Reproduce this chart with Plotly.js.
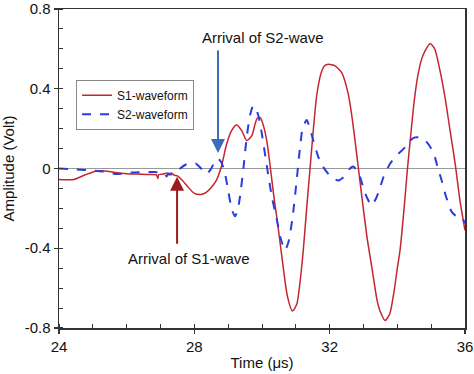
<!DOCTYPE html>
<html><head><meta charset="utf-8">
<script src="https://cdn.plot.ly/plotly-3.0.1.min.js"></script>
<style>html,body{margin:0;padding:0;background:#fff}</style>
</head><body><div id="chart" style="width:474px;height:374px"></div>
<script>
const s1Time = [24.0,24.3,24.45,24.8,25.1,25.35,25.66,26.0,26.25,26.6,26.88,26.92,26.95,27.1,27.2,27.25,27.32,27.4,27.5,27.65,27.8,28.0,28.2,28.35,28.5,28.65,28.8,28.95,29.1,29.25,29.4,29.55,29.7,29.85,29.95,30.05,30.15,30.25,30.35,30.45,30.6,30.75,30.9,31.03,31.13,31.22,31.32,31.42,31.52,31.62,31.75,31.85,31.96,32.16,32.36,32.55,32.65,32.75,32.85,32.95,33.1,33.25,33.4,33.5,33.64,33.78,33.9,34.0,34.08,34.2,34.3,34.38,34.5,34.6,34.72,34.82,34.97,35.11,35.25,35.41,35.55,35.71,35.85,36.0];
const s1Volt = [-0.055,-0.057,-0.055,-0.03,-0.012,-0.012,-0.02,-0.026,-0.028,-0.03,-0.032,-0.05,-0.03,-0.028,-0.022,-0.032,-0.022,-0.033,-0.037,-0.06,-0.09,-0.125,-0.13,-0.12,-0.095,-0.06,0.01,0.12,0.19,0.22,0.19,0.14,0.165,0.25,0.255,0.21,0.13,0.0,-0.14,-0.26,-0.46,-0.64,-0.715,-0.68,-0.56,-0.41,-0.2,0.0,0.2,0.37,0.48,0.515,0.523,0.515,0.48,0.373,0.27,0.14,0.0,-0.14,-0.34,-0.5,-0.66,-0.72,-0.763,-0.727,-0.62,-0.5,-0.41,-0.2,0.0,0.14,0.34,0.46,0.55,0.59,0.627,0.598,0.5,0.357,0.2,0.023,-0.16,-0.31];
const s2Time = [24.0,24.5,25.0,25.3,25.66,26.0,26.15,26.5,26.84,27.0,27.13,27.18,27.23,27.33,27.45,27.58,27.75,27.92,28.05,28.2,28.37,28.5,28.62,28.71,28.8,28.9,29.0,29.1,29.2,29.28,29.35,29.45,29.55,29.65,29.74,29.82,29.9,30.0,30.1,30.2,30.3,30.43,30.55,30.68,30.78,30.9,31.03,31.12,31.2,31.32,31.42,31.5,31.66,31.8,31.96,32.1,32.26,32.4,32.5,32.6,32.7,32.8,32.9,33.0,33.1,33.24,33.39,33.5,33.59,33.78,33.95,34.08,34.25,34.38,34.5,34.62,34.75,34.87,35.0,35.11,35.2,35.31,35.42,35.51,35.6,35.71,35.8,35.9,36.0];
const s2Volt = [0.0,-0.005,-0.01,-0.015,-0.027,-0.025,-0.02,-0.018,-0.018,-0.022,-0.027,-0.04,-0.025,-0.03,-0.02,0.0,0.02,0.03,0.025,0.0,-0.027,0.0,0.04,0.048,0.03,-0.02,-0.11,-0.2,-0.24,-0.21,-0.14,0.0,0.16,0.27,0.315,0.3,0.26,0.17,0.06,-0.05,-0.15,-0.25,-0.35,-0.41,-0.37,-0.25,-0.05,0.1,0.2,0.243,0.2,0.15,0.06,0.01,-0.027,-0.05,-0.06,-0.045,-0.027,0.0,0.01,-0.01,-0.043,-0.1,-0.145,-0.185,-0.143,-0.09,-0.043,0.023,0.06,0.082,0.11,0.14,0.155,0.157,0.15,0.132,0.1,0.057,0.0,-0.06,-0.13,-0.177,-0.215,-0.235,-0.243,-0.245,-0.275];
const seriesNames = ["S1-waveform","S2-waveform"];
const xTicks = [24,28,32,36];
const yTicks = [-0.8,-0.4,0,0.4,0.8];
const yTickText = ["-0.8","-0.4","0","0.4","0.8"];

const font = {family:"Liberation Sans, Arial, sans-serif", size:15, color:"#111"};
const traces = [
  {x:s1Time, y:s1Volt, name:seriesNames[0], mode:"lines", line:{color:"#c4262e", width:1.5, shape:"spline", smoothing:0.6}},
  {x:s2Time, y:s2Volt, name:seriesNames[1], mode:"lines", line:{color:"#2a3be0", width:2, dash:"dash", shape:"spline", smoothing:0.6}}
];
const axisCommon = {showline:true, linecolor:"#333", linewidth:1.5, mirror:true, showgrid:false, zeroline:false, ticks:"outside", ticklen:4, tickwidth:1.2, tickcolor:"#333", tickfont:font, ticklabeloverflow:"allow"};
const layout = {
  width:474, height:374,
  margin:{l:59, r:9, t:9, b:46},
  paper_bgcolor:"#fff", plot_bgcolor:"#fff",
  font:font,
  showlegend:true,
  legend:{x:0.042, y:0.778, xanchor:"left", yanchor:"top", bordercolor:"#888", borderwidth:1, bgcolor:"#fff", font:{family:font.family, size:12, color:"#111"}},
  xaxis:Object.assign({}, axisCommon, {range:[24,36], tickvals:xTicks, title:{text:"Time (μs)", font:font, standoff:4},
    minor:{dtick:1, ticks:"inside", ticklen:4, tickcolor:"#333", tickwidth:1}}),
  yaxis:Object.assign({}, axisCommon, {range:[-0.8001,0.8001], tickvals:yTicks, ticktext:yTickText, title:{text:"Amplitude (Volt)", font:font, standoff:6},
    minor:{dtick:0.1, ticks:"inside", ticklen:4, tickcolor:"#333", tickwidth:1}}),
  shapes:[{type:"line", xref:"paper", x0:0, x1:1, yref:"y", y0:0, y1:0, line:{color:"#999", width:1}, layer:"below"}],
  annotations:[
    {xref:"x", yref:"y", x:28.7, y:0.078, axref:"x", ayref:"y", ax:28.7, ay:0.6, text:"", showarrow:true, arrowhead:2, arrowsize:1.4, arrowwidth:2, arrowcolor:"#3b6cb7"},
    {xref:"x", yref:"y", x:30.03, y:0.655, text:"Arrival of S2-wave", showarrow:false, font:font},
    {xref:"x", yref:"y", x:27.49, y:-0.042, axref:"x", ayref:"y", ax:27.49, ay:-0.385, text:"", showarrow:true, arrowhead:2, arrowsize:1.4, arrowwidth:2, arrowcolor:"#9b1b1e"},
    {xref:"x", yref:"y", x:27.84, y:-0.45, text:"Arrival of S1-wave", showarrow:false, font:font}
  ]
};
Plotly.newPlot("chart", traces, layout, {displayModeBar:false, staticPlot:true});
</script></body></html>
